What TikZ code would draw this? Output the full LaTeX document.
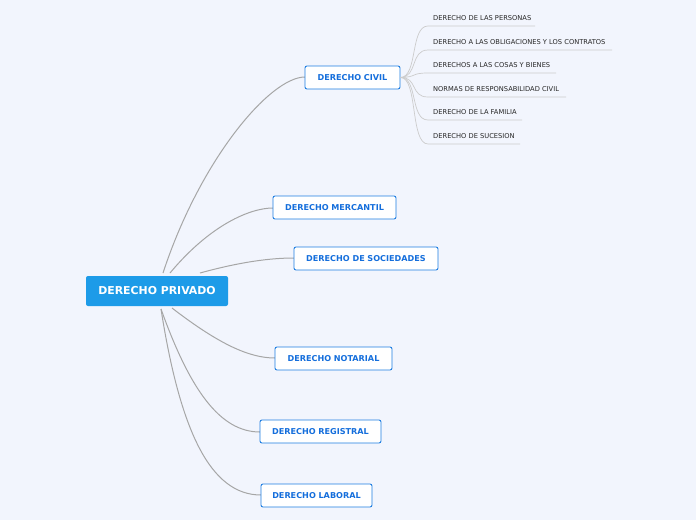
\documentclass[tikz,border=0pt]{standalone}
\usepackage{fontspec}
\setmainfont{DejaVu Sans}
\definecolor{bd}{RGB}{30,125,225}
\definecolor{tx}{RGB}{20,110,220}
\begin{document}
\begin{tikzpicture}[x=1pt,y=-1pt,
 sub/.style={draw=bd,line width=0.9pt,fill=white,rounded corners=2pt,font=\bfseries\fontsize{8.1}{9}\selectfont,text=tx,inner sep=0pt,minimum height=23pt,text width=#1,align=center},
 leaf/.style={font=\fontsize{6.7}{7}\selectfont,text=black!85,anchor=west,inner sep=0pt},
 con/.style={draw=black!35,line width=1pt},
 lcon/.style={draw=black!20,line width=0.7pt}]
\useasboundingbox[fill={rgb,255:red,242;green,245;blue,253}] (0,0) rectangle (696,520);
\node[fill={rgb,255:red,29;green,155;blue,232},rounded corners=2pt,minimum width=142pt,minimum height=30pt,text=white,font=\bfseries\fontsize{10.9}{12}\selectfont] (root) at (157,291) {DERECHO PRIVADO};
\coordinate (rt) at (163,273);
\coordinate (rb) at (161,309);
\draw[con] (rt) .. controls (200,160) and (270,77) .. (305,77);
\draw[con] (170,273) .. controls (210,225) and (250,208) .. (273,208);
\draw[con] (200,273) .. controls (240,262) and (270,258) .. (294,258);
\draw[con] (172,308) .. controls (220,345) and (250,358) .. (275,358);
\draw[con] (rb) .. controls (190,390) and (220,432) .. (260,432);
\draw[con] (rb) .. controls (180,430) and (210,495) .. (261,495);
\node[sub=95pt] (civil) at (352.5,77.5) {DERECHO CIVIL};
\node[sub=123pt] (merc) at (334.5,207.5) {DERECHO MERCANTIL};
\node[sub=144pt] (soc) at (366,258.5) {DERECHO DE SOCIEDADES};
\node[sub=117pt] (not) at (333.5,358.5) {DERECHO NOTARIAL};
\node[sub=121pt] (reg) at (320.5,431.5) {DERECHO REGISTRAL};
\node[sub=111pt] (lab) at (316.5,495.5) {DERECHO LABORAL};
\foreach \y/\e/\t [count=\i] in {18/535/DERECHO DE LAS PERSONAS,42/612/DERECHO A LAS OBLIGACIONES Y LOS CONTRATOS,65/556/DERECHOS A LAS COSAS Y BIENES,89/566/NORMAS DE RESPONSABILIDAD CIVIL,112/522/DERECHO DE LA FAMILIA,136/520/DERECHO DE SUCESION}{
 \node[leaf] (l\i) at (433,\y) {\t};
 \draw[lcon] (civil.east) .. controls (418,77) and (410,\y+8) .. (428,\y+8) -- (\e,\y+8);
}
\end{tikzpicture}
\end{document}
